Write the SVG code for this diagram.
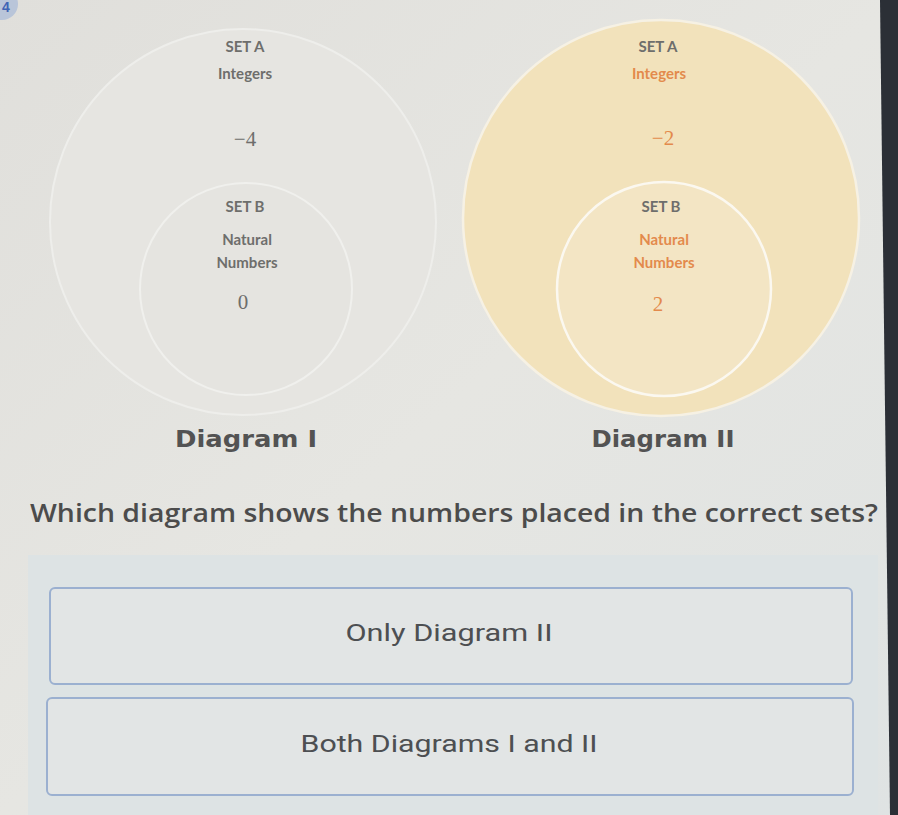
<svg xmlns="http://www.w3.org/2000/svg" width="898" height="815" viewBox="0 0 898 815">
<defs>
<linearGradient id="bg" x1="0" y1="0" x2="1" y2="1">
<stop offset="0" stop-color="#e0dfdb"/>
<stop offset="0.5" stop-color="#e6e6e2"/>
<stop offset="1" stop-color="#dfe3e3"/>
</linearGradient>
<style>
.lbl{font-family:"Lato","Open Sans",sans-serif;font-weight:700;font-size:15px;text-anchor:middle}
.grey{fill:#6e6e6c}
.orange{fill:#e38a4c}
.num{font-family:"Liberation Serif",serif;font-size:21px;text-anchor:middle}
.dtitle{font-family:"DejaVu Sans",sans-serif;font-weight:700;font-size:23px;fill:#535353;text-anchor:middle}
.q{font-family:"Open Sans",sans-serif;font-weight:600;font-size:25px;fill:#4c4c4c;text-anchor:middle}
.opt{font-family:"Roboto",sans-serif;font-size:24px;fill:#4d4f52;text-anchor:middle}
.box{fill:#e2e5e5;stroke:#9bb0d0;stroke-width:2}
</style>
</defs>
<rect width="898" height="815" fill="url(#bg)"/>
<rect x="28" y="555" width="850" height="260" fill="#dde3e4"/>
<polygon points="880,0 898,0 898,815 890,815" fill="#2b2f36"/>
<g id="badge">
<circle cx="2" cy="4" r="16" fill="#b9c5d9"/>
<text x="6" y="12" font-family="Liberation Sans,sans-serif" font-weight="700" font-size="14" fill="#3f64b5" text-anchor="middle">4</text>
</g>
<g id="diagram1">
<circle cx="243" cy="222" r="193" fill="#e6e5e1" stroke="#eeeeeb" stroke-width="2"/>
<circle cx="246" cy="289" r="106" fill="#e5e4e0" stroke="#f0f0ed" stroke-width="2"/>
<text class="lbl grey" x="245" y="52">SET A</text>
<text class="lbl grey" x="245" y="79">Integers</text>
<text class="num grey" x="245" y="146">−4</text>
<text class="lbl grey" x="245" y="212">SET B</text>
<text class="lbl grey" x="247" y="245">Natural</text>
<text class="lbl grey" x="247" y="268">Numbers</text>
<text class="num grey" x="243" y="309">0</text>
<text class="dtitle" x="246" y="447" textLength="142" lengthAdjust="spacingAndGlyphs">Diagram I</text>
</g>
<g id="diagram2">
<circle cx="661" cy="218" r="198" fill="#f2e2bb" stroke="#f6f1e4" stroke-width="2.5"/>
<circle cx="664" cy="289" r="107" fill="#f3e5c4" stroke="#fbf8f0" stroke-width="2.5"/>
<text class="lbl grey" x="658" y="52">SET A</text>
<text class="lbl orange" x="659" y="79">Integers</text>
<text class="num orange" x="663" y="145">−2</text>
<text class="lbl grey" x="661" y="212">SET B</text>
<text class="lbl orange" x="664" y="245">Natural</text>
<text class="lbl orange" x="664" y="268">Numbers</text>
<text class="num orange" x="658" y="311">2</text>
<text class="dtitle" x="663" y="447" textLength="143" lengthAdjust="spacingAndGlyphs">Diagram II</text>
</g>
<g id="question">
<text class="q" x="454" y="522" textLength="848" lengthAdjust="spacingAndGlyphs">Which diagram shows the numbers placed in the correct sets?</text>
</g>
<g id="option1">
<rect class="box" x="50" y="588" width="802" height="96" rx="5"/>
<text class="opt" x="449" y="641" textLength="207" lengthAdjust="spacingAndGlyphs">Only Diagram II</text>
</g>
<g id="option2">
<rect class="box" x="47" y="698" width="806" height="97" rx="5"/>
<text class="opt" x="449" y="752" textLength="297" lengthAdjust="spacingAndGlyphs">Both Diagrams I and II</text>
</g>
<g id="connectors"></g>
</svg>
